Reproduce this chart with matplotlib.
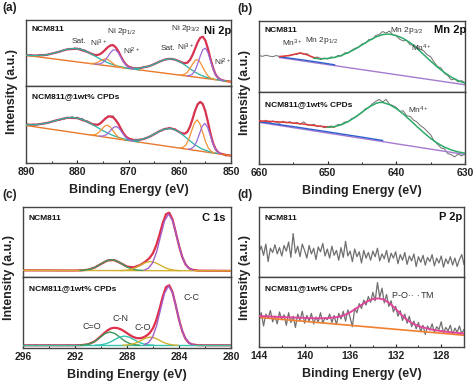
import numpy as np
import matplotlib
matplotlib.use('Agg')
import matplotlib.pyplot as plt
from matplotlib.ticker import MultipleLocator

plt.rcParams['font.family'] = ['Liberation Sans', 'DejaVu Sans']
plt.rcParams['mathtext.fontset'] = 'custom'
plt.rcParams['mathtext.rm'] = 'Liberation Sans'
plt.rcParams['mathtext.it'] = 'Liberation Sans:italic'
plt.rcParams['mathtext.bf'] = 'Liberation Sans:bold'

# ---------------- (a) Ni 2p ----------------
a_raw_x = np.linspace(890, 850, 81)
a1_raw_y = [47.5, 46.2, 47.0, 45.8, 46.5, 47.3, 46.4, 47.8, 46.9, 48.6,
            49.4, 49.8, 51.5, 51.0, 53.4, 54.1, 55.0, 57.2, 56.0, 57.9,
            56.4, 57.3, 55.2, 54.6, 51.9, 50.3, 48.6, 46.5, 47.6, 48.1,
            51.9, 55.0, 59.4, 61.0, 62.4, 58.3, 53.5, 44.6, 38.3, 32.1,
            29.8, 27.3, 26.9, 25.6, 27.4, 27.0, 28.9, 28.6, 30.6, 31.4,
            33.8, 34.6, 36.3, 38.6, 39.4, 41.5, 40.6, 42.1, 39.8, 39.0,
            36.6, 35.9, 34.0, 35.8, 39.1, 47.5, 56.1, 66.8, 72.4, 75.2,
            68.5, 57.1, 40.6, 27.8, 16.9, 12.7, 9.0, 8.9, 7.0, 7.6, 6.2]
a1_env_x = [890, 888, 886, 884, 882, 880, 878, 877, 876.5, 876, 875.5, 875, 874.5, 874, 873.5,
            873, 872.5, 872, 871.5, 871, 870.5, 870, 869, 868, 866, 865, 864, 863, 862, 861,
            860, 859.5, 859, 858.5, 858, 857.5, 857, 856.5, 856, 855.5, 855, 854.5, 854, 853.5,
            853, 852.5, 852, 851.5, 851, 850]
a1_env_y = [46.8, 46.0, 47.1, 50.9, 55.5, 56.5, 51.5, 48.0, 46.9, 47.0, 48.5, 51.4, 55.3, 59.0, 61.6,
            61.9, 58.8, 52.9, 45.1, 37.8, 32.7, 29.3, 26.8, 26.7, 30.0, 33.1, 36.8, 39.8, 41.2, 40.2,
            37.1, 35.3, 34.5, 35.4, 39.6, 47.0, 56.6, 66.2, 73.0, 74.6, 69.0, 56.5, 41.1, 27.3,
            17.4, 12.1, 9.5, 8.2, 7.5, 6.5]
a1_bg_x = [890, 850]
a1_bg_y = [46.5, 6.5]
a1_sat1_x = [890, 888, 886, 884, 883, 882, 881, 880, 879, 878, 877, 876, 875, 874, 873, 872, 870, 868]
a1_sat1_y = [46.8, 46.0, 47.1, 50.9, 53.4, 55.5, 56.7, 56.5, 54.7, 51.5, 47.4, 42.9, 38.7, 35.1, 32.2, 30.0, 26.8, 24.6]
a1_ni3a_x = [877.5, 877, 876.5, 876, 875.5, 875, 874.5, 874, 873.5, 873, 872.5, 872, 871.5, 871]
a1_ni3a_y = [34.2, 34.1, 34.6, 36.0, 38.1, 40.1, 41.0, 39.9, 37.2, 34.0, 31.2, 29.4, 28.3, 27.6]
a1_ni2a_x = [876.5, 876, 875.5, 875, 874.5, 874, 873.5, 873, 872.5, 872, 871.5, 871, 870.5, 870, 869.5, 869]
a1_ni2a_y = [33.2, 33.1, 33.7, 35.6, 39.5, 45.0, 50.8, 54.7, 54.6, 50.5, 43.8, 37.0, 31.9, 28.6, 26.7, 25.7]
a1_sat2_x = [870, 868, 866, 865, 864, 863, 862, 861.5, 861, 860, 859, 858, 857, 856, 855, 854, 853, 852, 851]
a1_sat2_y = [26.9, 26.7, 30.0, 33.1, 36.8, 39.8, 41.2, 41.0, 40.2, 36.8, 31.8, 26.1, 21.0, 16.8, 13.7, 11.5, 9.9, 8.65, 7.55]
a1_ni3b_x = [860, 859.5, 859, 858.5, 858, 857.5, 857, 856.5, 856, 855.5, 855, 854.5, 854, 853.5, 853]
a1_ni3b_y = [16.7, 16.8, 18.0, 21.0, 26.6, 33.3, 38.8, 39.9, 35.8, 28.4, 21.0, 15.3, 12.2, 10.5, 9.6]
a1_ni2b_x = [858.5, 858, 857.5, 857, 856.5, 856, 855.5, 855, 854.5, 854, 853.5, 853, 852.5, 852, 851.5]
a1_ni2b_y = [15.4, 15.9, 18.3, 23.8, 33.6, 45.4, 55.1, 57.3, 50.7, 38.4, 26.1, 16.9, 11.9, 9.4, 8.2]

a2_raw_y = [49.0, 50.6, 48.9, 50.8, 49.2, 50.9, 50.1, 51.2, 52.5, 52.0,
            54.1, 53.8, 55.9, 55.2, 57.5, 57.0, 59.3, 58.4, 60.2, 58.1,
            59.6, 57.4, 57.8, 55.0, 54.6, 51.8, 51.2, 48.8, 50.4, 51.0,
            55.3, 57.0, 61.2, 60.0, 61.4, 55.2, 51.7, 43.9, 39.6, 33.5,
            32.6, 29.4, 30.5, 28.9, 30.8, 30.2, 32.0, 32.4, 34.6, 35.1,
            38.2, 38.9, 42.0, 41.6, 45.1, 44.0, 46.3, 44.2, 44.6, 41.7,
            40.5, 37.9, 38.6, 40.1, 47.8, 56.5, 68.9, 75.8, 80.0, 77.1,
            66.5, 53.9, 37.4, 26.3, 17.4, 14.2, 11.3, 12.0, 8.9, 10.6, 8.7]
a2_env_x = [890, 888, 886, 884, 882, 880, 878, 877, 876, 875.5, 875, 874.5, 874, 873.5, 873,
            872.5, 872, 871.5, 871, 870.5, 870, 869, 868, 867, 866, 865, 864, 863, 862, 861,
            860, 859.5, 859, 858.5, 858, 857.5, 857, 856.5, 856, 855.5, 855, 854.5, 854, 853.5,
            853, 852.5, 852, 851, 850]
a2_env_y = [49.7, 49.8, 51.8, 55.5, 58.7, 58.3, 53.5, 50.3, 49.6, 51.5, 54.5, 57.9, 60.1, 60.6, 59.2,
            55.9, 50.9, 44.7, 38.8, 34.4, 31.8, 29.9, 30.0, 31.2, 33.8, 37.3, 41.1, 44.0, 45.2, 43.7,
            39.9, 38.4, 38.1, 40.6, 47.2, 57.2, 68.1, 76.3, 79.3, 76.4, 67.2, 53.2, 38.1, 25.8,
            18.0, 13.85, 12.1, 10.48, 9.5]
a2_bg_x = [890, 850]
a2_bg_y = [48.7, 9.5]
a2_sat1_x = [890, 888, 886, 884, 883, 882, 881, 880, 879, 878, 877, 876, 875, 874, 873, 872, 870, 868]
a2_sat1_y = [49.7, 49.8, 51.8, 55.5, 57.3, 58.7, 59.1, 58.3, 56.4, 53.4, 49.8, 45.9, 42.1, 38.6, 35.7, 33.3, 29.8, 27.3]
a2_ni3a_x = [877.4, 876.85, 876.3, 875.75, 875.2, 874.65, 874.1, 873.55, 873.0, 872.45, 871.9, 871.35, 870.8]
a2_ni3a_y = [36.5, 36.5, 37.4, 39.9, 43.9, 47.8, 49.1, 46.7, 41.7, 36.7, 33.1, 31.1, 30.1]
a2_ni2a_x = [875.7, 875.15, 874.6, 874.05, 873.5, 872.95, 872.4, 871.85, 871.3, 870.75, 870.2, 869.65, 869.1]
a2_ni2a_y = [34.9, 34.9, 35.8, 38.3, 42.2, 46.1, 47.5, 45.0, 40.1, 35.0, 31.5, 29.5, 28.4]
a2_sat2_x = [870.7, 869.2, 867.7, 866.2, 864.7, 863.2, 861.7, 860.2, 858.7, 857.2, 855.7, 854.2, 852.7]
a2_sat2_y = [30.1, 29.4, 30.1, 33.2, 38.5, 43.6, 45.0, 40.7, 32.6, 24.4, 18.3, 14.7, 12.4]
a2_ni3b_x = [859.9, 859.35, 858.8, 858.25, 857.7, 857.15, 856.6, 856.05, 855.5, 854.95, 854.4, 853.85, 853.3]
a2_ni3b_y = [19.6, 20.4, 23.5, 30.6, 41.4, 51.8, 56.0, 50.7, 39.2, 27.4, 19.2, 15.0, 13.2]
a2_ni2b_x = [858.25, 857.73, 857.2, 856.68, 856.15, 855.63, 855.1, 854.58, 854.05, 853.53, 853.0, 852.48, 851.95]
a2_ni2b_y = [18.0, 18.7, 21.6, 28.1, 38.0, 47.6, 51.5, 46.6, 36.0, 25.0, 17.4, 13.6, 11.8]

# ---------------- (b) Mn 2p ----------------
b_raw_x = np.linspace(660, 630, 61)
b1_raw_y = [51.5, 50.2, 51.8, 50.6, 49.8, 51.3, 50.0, 49.2, 51.4, 50.9,
            53.2, 52.8, 55.6, 53.1, 53.9, 50.2, 48.1, 49.3, 45.8, 47.9,
            46.5, 49.4, 48.3, 51.5, 50.6, 55.3, 54.8, 58.9, 61.6, 62.7,
            67.8, 68.5, 73.9, 74.2, 79.6, 80.8, 85.2, 83.0, 85.8, 80.6,
            78.9, 74.2, 72.0, 72.8, 66.3, 66.9, 62.7, 60.1, 57.8, 52.4,
            49.6, 42.1, 35.8, 33.9, 26.4, 23.0, 17.1, 18.5, 14.2, 16.0, 13.1]
b1_bg_x = [657, 630]
b1_bg_y = [48.5, 10.2]
b1_blue_x = [657, 655, 653, 651, 649]
b1_blue_y = [49.4, 47.0, 44.3, 41.4, 38.3]
b1_red_x = [657, 656, 655, 654.5, 654, 653.5, 653, 652.5, 652, 651.5, 651]
b1_red_y = [50.0, 50.8, 52.6, 54.0, 54.6, 54.0, 52.4, 50.4, 48.6, 47.5, 47.0]
b1_green_x = [652, 651, 650, 649, 648, 647, 646, 645, 644, 643, 642, 641.5, 641, 640, 639, 638,
              637, 636, 635, 634, 633, 632, 631, 630]
b1_green_y = [47.5, 46.8, 47.2, 48.8, 51.5, 55.5, 60.5, 66.3, 72.3, 77.5, 80.8, 81.5, 81.5, 79.5,
              75.5, 69.5, 61.5, 52.5, 43.5, 35.0, 27.5, 21.0, 16.0, 12.5]

b2_raw_y = [59.5, 57.2, 60.8, 56.9, 59.8, 58.1, 56.5, 59.4, 57.0, 58.9,
            56.2, 57.8, 55.1, 58.6, 54.3, 53.7, 55.2, 51.8, 52.9, 50.4,
            51.6, 52.8, 51.4, 54.9, 55.0, 58.3, 58.7, 63.2, 64.5, 68.0,
            71.4, 76.8, 78.2, 83.6, 86.9, 89.8, 86.1, 89.6, 82.9, 81.2,
            78.5, 73.1, 73.9, 67.0, 66.2, 61.0, 58.4, 53.3, 50.1, 45.2,
            40.7, 31.9, 27.6, 22.3, 21.0, 14.5, 13.0, 9.8, 13.9, 11.2, 14.0]
b2_bg_x = [660, 630]
b2_bg_y = [57.9, 13.2]
b2_blue_x = [660, 655, 650, 645, 642]
b2_blue_y = [58.8, 51.9, 44.7, 37.3, 32.7]
b2_red_x = [660, 658, 656, 654, 652, 651, 650, 649]
b2_red_y = [60.0, 59.0, 57.8, 56.0, 53.5, 52.3, 51.5, 51.5]
b2_green_x = [650, 649, 648, 647, 646, 645, 644, 643, 642.5, 642, 641, 640, 639, 638, 637, 636,
              635, 634, 633, 632, 631, 630]
b2_green_y = [51.0, 52.0, 54.5, 59.0, 65.0, 72.0, 79.0, 84.0, 85.5, 85.5, 82.5, 77.0, 69.5, 61.0,
              52.0, 43.5, 35.5, 28.8, 23.4, 19.5, 16.8, 15.0]

# ---------------- (c) C 1s ----------------
c_raw_x = np.linspace(296, 280, 65)
c1_raw_y = [9.8, 9.2, 9.7, 9.4, 9.9, 9.1, 9.6, 9.3, 9.8, 9.2, 9.5, 9.0, 9.6, 9.3, 9.7, 9.1,
            9.5, 9.6, 9.3, 10.2, 10.1, 11.9, 13.0, 16.3, 18.2, 21.9, 23.1, 25.3, 24.0, 23.1,
            19.6, 17.5, 14.6, 14.0, 13.3, 15.1, 16.8, 20.1, 23.0, 27.7, 33.9, 45.4, 60.3, 77.4,
            89.5, 92.2, 82.0, 64.2, 44.3, 29.0, 17.8, 13.1, 10.1, 9.7, 8.8, 9.3, 8.7, 9.2, 8.6,
            9.1, 8.8, 9.0, 8.5, 9.1, 8.7]
c1_env_x = [296, 294, 292.5, 292, 291.5, 291, 290.5, 290, 289.5, 289, 288.5, 288, 287.5, 287,
            286.75, 286.5, 286.25, 286, 285.75, 285.5, 285.25, 285, 284.75, 284.5, 284.25, 284,
            283.75, 283.5, 283.25, 283, 282.5, 282, 280]
c1_env_y = [9.5, 9.4, 9.3, 9.3, 9.5, 10.4, 13.3, 18.6, 23.6, 24.2, 19.9, 14.9, 13.7, 17.0,
            19.8, 23.2, 27.5, 34.1, 45.2, 60.5, 77.1, 89.8, 91.9, 82.3, 63.9, 44.6,
            28.7, 18.1, 12.8, 10.4, 9.1, 9.0, 8.8]
c1_bg_x = [296, 280]
c1_bg_y = [9.5, 8.8]
c1_co_x = [291.6, 291.2, 290.8, 290.4, 290.0, 289.6, 289.2, 288.8, 288.4, 288.0, 287.6, 287.2, 286.8]
c1_co_y = [9.4, 9.9, 11.4, 14.3, 18.7, 23.0, 24.8, 23.0, 18.7, 14.3, 11.4, 9.9, 9.4]
c1_c_o_x = [288.45, 288.08, 287.7, 287.33, 286.95, 286.58, 286.2, 285.83, 285.45, 285.08, 284.7, 284.33, 283.95]
c1_c_o_y = [9.2, 9.7, 10.9, 13.3, 17.0, 20.6, 22.1, 20.6, 17.0, 13.3, 10.9, 9.7, 9.2]
c_cc_x = [286.66, 286.35, 286.04, 285.73, 285.42, 285.11, 284.8, 284.49, 284.18, 283.87, 283.56, 283.25, 282.94]
c1_cc_y = [9.9, 12.6, 19.9, 35.3, 58.2, 80.4, 90.0, 80.4, 58.2, 35.3, 19.9, 12.6, 9.9]

c2_raw_y = [4.3, 3.5, 4.1, 3.6, 4.4, 3.4, 4.0, 3.7, 4.5, 3.5, 4.2, 3.3, 4.1, 3.8, 4.4, 3.6,
            4.2, 3.9, 4.5, 4.4, 5.6, 6.8, 9.4, 12.6, 16.9, 20.6, 25.1, 27.2, 28.9, 27.8,
            26.9, 23.7, 21.2, 17.6, 15.7, 13.6, 13.9, 14.6, 17.6, 20.9, 28.2, 38.8, 55.2, 72.1,
            86.1, 88.1, 79.0, 59.7, 40.4, 23.5, 13.3, 7.2, 5.4, 4.2, 3.6, 4.3, 3.5, 4.1, 3.4,
            4.2, 3.7, 4.4, 3.5, 4.0, 3.6]
c2_env_x = [296, 294, 292.5, 292, 291.5, 291, 290.5, 290, 289.75, 289.5, 289.25, 289, 288.75,
            288.5, 288.25, 288, 287.75, 287.5, 287.25, 287, 286.75, 286.5, 286.25, 286, 285.75,
            285.5, 285.25, 285, 284.75, 284.5, 284.25, 284, 283.75, 283.5, 283.25, 283, 282.5, 282, 280]
c2_env_y = [3.8, 3.8, 3.8, 3.8, 4.1, 5.2, 9.1, 16.7, 21.0, 24.8, 27.5, 28.5, 28.1,
            26.5, 24.0, 20.9, 17.9, 15.4, 13.9, 13.7, 14.9, 17.3, 21.2, 27.9, 39.1,
            54.9, 72.4, 85.8, 88.4, 78.7, 60.0, 40.1, 23.8, 13.0, 7.5, 5.05, 3.9, 3.8, 3.8]
c2_bg_x = [296, 280]
c2_bg_y = [3.8, 3.8]
c2_co_x = [291.55, 291.18, 290.8, 290.43, 290.05, 289.68, 289.3, 288.93, 288.55, 288.18, 287.8, 287.43, 287.05]
c2_co_y = [4.0, 4.6, 6.3, 9.9, 15.2, 20.4, 22.6, 20.4, 15.2, 9.9, 6.3, 4.6, 4.0]
c2_cn_x = [290.45, 290.08, 289.7, 289.33, 288.95, 288.58, 288.2, 287.83, 287.45, 287.08, 286.7, 286.33, 285.95]
c2_cn_y = [3.9, 4.4, 5.6, 8.0, 11.7, 15.3, 16.8, 15.3, 11.7, 8.0, 5.6, 4.4, 3.9]
c2_c_o_x = [288.3, 287.95, 287.6, 287.25, 286.9, 286.55, 286.2, 285.85, 285.5, 285.15, 284.8, 284.45, 284.1]
c2_c_o_y = [3.9, 4.3, 5.4, 7.6, 10.8, 14.0, 15.4, 14.0, 10.8, 7.6, 5.4, 4.3, 3.9]
c2_cc_y = [4.7, 7.5, 15.1, 30.9, 54.5, 77.4, 87.3, 77.4, 54.5, 30.9, 15.1, 7.5, 4.7]

# ---------------- (d) P 2p ----------------
d_raw_x = np.linspace(144, 126, 91)
d1_raw_y = [36, 44, 31, 47, 22, 41, 35, 46, 33, 42, 30, 45, 37, 50, 28, 62, 34, 44, 29, 47,
            38, 27, 45, 33, 41, 25, 43, 36, 48, 30, 40, 27, 44, 31, 38, 24, 42, 28, 51, 30,
            37, 22, 40, 29, 36, 20, 38, 27, 35, 24, 37, 29, 41, 23, 33, 26, 38, 21, 34, 27,
            36, 19, 32, 24, 35, 18, 30, 23, 33, 15, 29, 21, 31, 17, 28, 22, 32, 16, 27, 20,
            30, 14, 26, 19, 29, 17, 27, 15, 25, 32, 18]
d2_raw_y = [38, 49, 30, 47, 41, 52, 36, 44, 33, 50, 39, 46, 31, 49, 35, 44, 28, 47, 38, 51,
            34, 45, 37, 48, 33, 43, 36, 49, 34, 42, 39, 47, 35, 45, 32, 48, 40, 51, 37, 53,
            42, 29, 55, 49, 62, 55, 67, 60, 72, 64, 78, 66, 92, 71, 84, 63, 75, 58, 66, 50,
            58, 44, 52, 38, 47, 34, 44, 29, 37, 26, 35, 22, 31, 18, 30, 24, 33, 21, 29, 25,
            36, 20, 28, 23, 31, 18, 27, 21, 30, 19, 25]
d2_bg_x = [144, 126]
d2_bg_y = [42.3, 16.8]
d2_fit_x = [144, 142, 140, 139, 138, 137, 136.5, 136, 135.5, 135, 134.5, 134, 133.5, 133, 132.5,
            132, 131.5, 131, 130.5, 130, 129, 128, 127, 126]
d2_fit_y = [44.2, 42.8, 41.5, 41.0, 41.2, 43.0, 45.5, 49.5, 54.8, 60.2, 65.2, 68.5, 69.5, 67.5,
            62.0, 54.5, 46.0, 38.8, 33.5, 29.8, 25.5, 22.6, 20.8, 19.2]

W, H = 474, 389
GRAY = '#6f6f6f'
TXT = '#333333'


def px_axes(fig, l, t, r, b):
    return fig.add_axes([l / W, 1 - b / H, (r - l) / W, (b - t) / H])


def make_panel(fig, l, t, mid, r, b, xlim, major, minor, letter, letter_x):
    top = px_axes(fig, l, t, r, mid)
    bot = px_axes(fig, l, mid, r, b)
    for ax in (top, bot):
        ax.set_xlim(*xlim)
        ax.set_ylim(0, 100)
        ax.set_yticks([])
        ax.xaxis.set_major_locator(MultipleLocator(major))
        ax.xaxis.set_minor_locator(MultipleLocator(minor))
        ax.tick_params(axis='x', which='major', direction='in', length=2.5, width=0.8,
                       labelsize=7.5, pad=3, colors='#222222')
        ax.tick_params(axis='x', which='minor', direction='in', length=1.5, width=0.6)
        for s in ax.spines.values():
            s.set_linewidth(1.0)
            s.set_color('#444444')
        for lab in ax.get_xticklabels():
            lab.set_fontweight('bold')
    top.tick_params(axis='x', which='both', bottom=False, labelbottom=False)
    cx = (l + r) / 2
    fig.text(cx / W, 1 - (b + 27) / H, 'Binding Energy (eV)', ha='center', va='center',
             fontsize=9, fontweight='bold', color='#222222')
    fig.text((l - 14) / W, 1 - ((t + b) / 2) / H, 'Intensity (a.u.)', ha='center', va='center',
             rotation=90, fontsize=9, fontweight='bold', color='#222222')
    fig.text(letter_x / W, 1 - (t - 12) / H, letter, ha='left', va='center',
             fontsize=8.5, fontweight='bold', color='#222222')
    return top, bot


def sample_label(ax, text, y):
    ax.text(0.028, y, text, transform=ax.transAxes, fontsize=6, fontweight='bold',
            color='#111111', va='center', ha='left')


fig = plt.figure(figsize=(W / 100, H / 100), dpi=100)

# (a)
ta, ba = make_panel(fig, 26, 20, 86, 231, 163, (890, 850), 10, 5, '(a)', 2)
ta.plot(a_raw_x, a1_raw_y, color=GRAY, lw=0.7, zorder=1)
ta.plot(a1_env_x, a1_env_y, color='#d8344f', lw=1.6, zorder=2)
ta.plot(a1_bg_x, a1_bg_y, color='#e8782c', lw=1.0, zorder=3)
ta.plot(a1_sat1_x, a1_sat1_y, color='#2bb3a6', lw=0.9, zorder=3)
ta.plot(a1_sat2_x, a1_sat2_y, color='#2bb3a6', lw=0.9, zorder=3)
ta.plot(a1_ni3a_x, a1_ni3a_y, color='#f39237', lw=0.9, zorder=3)
ta.plot(a1_ni3b_x, a1_ni3b_y, color='#f39237', lw=0.9, zorder=3)
ta.plot(a1_ni2a_x, a1_ni2a_y, color='#9a6ad8', lw=0.9, zorder=3)
ta.plot(a1_ni2b_x, a1_ni2b_y, color='#9a6ad8', lw=0.9, zorder=3)
sample_label(ta, 'NCM811', 0.85)
ta.text(852.6, 84, 'Ni 2p', fontsize=8, fontweight='bold', ha='center', va='center', color='#111111')
ta.text(879.6, 68, 'Sat.', fontsize=6, ha='center', va='center', color=TXT)
ta.text(875.9, 64, 'Ni$^{3+}$', fontsize=6, ha='center', va='center', color=TXT)
ta.text(871.4, 82, 'Ni 2p$_{1/2}$', fontsize=6, ha='center', va='center', color=TXT)
ta.text(869.3, 52, 'Ni$^{2+}$', fontsize=6, ha='center', va='center', color=TXT)
ta.text(862.3, 57, 'Sat.', fontsize=6, ha='center', va='center', color=TXT)
ta.text(858.9, 59, 'Ni$^{3+}$', fontsize=6, ha='center', va='center', color=TXT)
ta.text(858.9, 87, 'Ni 2p$_{3/2}$', fontsize=6, ha='center', va='center', color=TXT)
ta.text(851.6, 36, 'Ni$^{2+}$', fontsize=6, ha='center', va='center', color=TXT)

ba.plot(a_raw_x, a2_raw_y, color=GRAY, lw=0.7, zorder=1)
ba.plot(a2_env_x, a2_env_y, color='#d8344f', lw=1.6, zorder=2)
ba.plot(a2_bg_x, a2_bg_y, color='#e8782c', lw=1.0, zorder=3)
ba.plot(a2_sat1_x, a2_sat1_y, color='#2bb3a6', lw=0.9, zorder=3)
ba.plot(a2_sat2_x, a2_sat2_y, color='#2bb3a6', lw=0.9, zorder=3)
ba.plot(a2_ni3a_x, a2_ni3a_y, color='#f39237', lw=0.9, zorder=3)
ba.plot(a2_ni3b_x, a2_ni3b_y, color='#f39237', lw=0.9, zorder=3)
ba.plot(a2_ni2a_x, a2_ni2a_y, color='#9a6ad8', lw=0.9, zorder=3)
ba.plot(a2_ni2b_x, a2_ni2b_y, color='#9a6ad8', lw=0.9, zorder=3)
sample_label(ba, 'NCM811@1wt% CPDs', 0.86)

# (b)
tb, bb = make_panel(fig, 259, 21, 92, 465, 164, (660, 630), 10, 5, '(b)', 237)
tb.plot(b_raw_x, b1_raw_y, color=GRAY, lw=0.7, zorder=1)
tb.plot(b1_bg_x, b1_bg_y, color='#a67ad0', lw=1.0, zorder=2)
tb.plot(b1_blue_x, b1_blue_y, color='#3060d0', lw=1.0, zorder=2)
tb.plot(b1_red_x, b1_red_y, color='#e23a3a', lw=1.1, zorder=3)
tb.plot(b1_green_x, b1_green_y, color='#2eaa6a', lw=1.1, zorder=3)
sample_label(tb, 'NCM811', 0.86)
tb.text(632.2, 87, 'Mn 2p', fontsize=8, fontweight='bold', ha='center', va='center', color='#111111')
tb.text(655.1, 68, 'Mn$^{3+}$', fontsize=6, ha='center', va='center', color=TXT)
tb.text(650.9, 73, 'Mn 2p$_{1/2}$', fontsize=6, ha='center', va='center', color=TXT)
tb.text(638.5, 87, 'Mn 2p$_{3/2}$', fontsize=6, ha='center', va='center', color=TXT)
tb.text(636.3, 61, 'Mn$^{4+}$', fontsize=6, ha='center', va='center', color=TXT)

bb.plot(b_raw_x, b2_raw_y, color=GRAY, lw=0.7, zorder=1)
bb.plot(b2_bg_x, b2_bg_y, color='#a67ad0', lw=1.0, zorder=2)
bb.plot(b2_blue_x, b2_blue_y, color='#3060d0', lw=1.0, zorder=2)
bb.plot(b2_red_x, b2_red_y, color='#e23a3a', lw=1.1, zorder=3)
bb.plot(b2_green_x, b2_green_y, color='#2eaa6a', lw=1.1, zorder=3)
sample_label(bb, 'NCM811@1wt% CPDs', 0.83)
bb.text(636.8, 74, 'Mn$^{4+}$', fontsize=6, ha='center', va='center', color=TXT)

# (c)
tc, bc = make_panel(fig, 23, 207, 277, 231, 348, (296, 280), 4, 2, '(c)', 2)
tc.plot(c_raw_x, c1_raw_y, color=GRAY, lw=0.7, zorder=1)
tc.plot(c1_env_x, c1_env_y, color='#e0304a', lw=1.6, zorder=2)
tc.plot(c1_bg_x, c1_bg_y, color='#d4b030', lw=1.0, zorder=3)
tc.plot(c1_co_x, c1_co_y, color='#3d9a5a', lw=1.0, zorder=3)
tc.plot(c1_c_o_x, c1_c_o_y, color='#d4b030', lw=1.0, zorder=3)
tc.plot(c_cc_x, c1_cc_y, color='#a45cc8', lw=1.0, zorder=3)
sample_label(tc, 'NCM811', 0.84)
tc.text(281.3, 84, 'C 1s', fontsize=8, fontweight='bold', ha='center', va='center', color='#111111')

bc.plot(c_raw_x, c2_raw_y, color=GRAY, lw=0.7, zorder=1)
bc.plot(c2_env_x, c2_env_y, color='#e0304a', lw=1.6, zorder=2)
bc.plot(c2_bg_x, c2_bg_y, color='#35c3b0', lw=1.0, zorder=3)
bc.plot(c2_co_x, c2_co_y, color='#3d9a5a', lw=1.0, zorder=3)
bc.plot(c2_cn_x, c2_cn_y, color='#35c3b0', lw=1.0, zorder=3)
bc.plot(c2_c_o_x, c2_c_o_y, color='#d4b030', lw=1.0, zorder=3)
bc.plot(c_cc_x, c2_cc_y, color='#a45cc8', lw=1.0, zorder=3)
sample_label(bc, 'NCM811@1wt% CPDs', 0.84)
bc.text(283.0, 71, 'C-C', fontsize=6.5, ha='center', va='center', color=TXT)
bc.text(290.7, 30, 'C=O', fontsize=6.5, ha='center', va='center', color=TXT)
bc.text(288.5, 41, 'C-N', fontsize=6.5, ha='center', va='center', color=TXT)
bc.text(286.8, 29, 'C-O', fontsize=6.5, ha='center', va='center', color=TXT)

# (d)
td, bd = make_panel(fig, 259, 207, 277, 464, 347, (144, 126), 4, 2, '(d)', 237)
td.plot(d_raw_x, d1_raw_y, color=GRAY, lw=0.9, zorder=1)
sample_label(td, 'NCM811', 0.84)
td.text(127.2, 86, 'P 2p', fontsize=8, fontweight='bold', ha='center', va='center', color='#111111')

bd.plot(d_raw_x, d2_raw_y, color=GRAY, lw=0.9, zorder=1)
bd.plot(d2_bg_x, d2_bg_y, color='#f08030', lw=1.2, zorder=2)
bd.plot(d2_fit_x, d2_fit_y, color='#e0469c', lw=1.4, zorder=3)
sample_label(bd, 'NCM811@1wt% CPDs', 0.84)
bd.text(130.5, 74, 'P-O$\\cdot\\cdot\\cdot$TM', fontsize=6.5, ha='center', va='center', color=TXT)

fig.savefig('out.png', dpi=100)
